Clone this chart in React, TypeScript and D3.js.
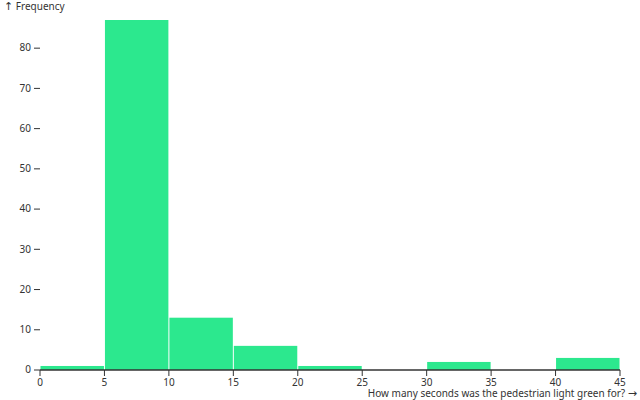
import * as d3 from 'd3';

// Histogram bins (seconds) and counts
const binStarts = [0, 5, 10, 15, 20, 25, 30, 35, 40];
const binWidth = 5;
const counts = [1, 87, 13, 6, 1, 0, 2, 0, 3];
const xTicks = [0, 5, 10, 15, 20, 25, 30, 35, 40, 45];
const yTicks = [0, 10, 20, 30, 40, 50, 60, 70, 80];

const WIDTH = 640;
const HEIGHT = 400;
const margin = { top: 20, right: 20, bottom: 30, left: 40 };
const FILL = '#2ce88e';
const INK = '#333';
const FONT = '"Noto Sans", sans-serif';
const ARROW_FONT = '"DejaVu Sans", sans-serif';

export default function App() {
  const x = d3.scaleLinear()
    .domain([0, 45])
    .range([margin.left, WIDTH - margin.right]);
  const y = d3.scaleLinear()
    .domain([0, d3.max(counts) as number])
    .range([HEIGHT - margin.bottom, margin.top]);

  const bars = binStarts.map((start, i) => ({ x0: start, x1: start + binWidth, n: counts[i] }));

  return (
    <svg
      width={WIDTH}
      height={HEIGHT}
      viewBox={`0 0 ${WIDTH} ${HEIGHT}`}
      style={{ position: 'absolute', left: 0, top: 0, background: '#fff' }}
      fontFamily={FONT}
      fontSize={10}
    >
      {/* bars */}
      <g fill={FILL}>
        {bars.filter(b => b.n > 0).map(b => (
          <rect
            key={b.x0}
            x={x(b.x0) + 0.5}
            width={x(b.x1) - x(b.x0) - 1}
            y={y(b.n)}
            height={y(0) - y(b.n)}
          />
        ))}
      </g>

      {/* y axis */}
      <g fill={INK} textAnchor="end">
        {yTicks.map(t => (
          <g key={t} transform={`translate(0,${y(t)})`}>
            <line x1={margin.left - 6} x2={margin.left} stroke={INK} />
            <text x={margin.left - 9} dy="0.32em">{t}</text>
          </g>
        ))}
      </g>
      <text x={4} y={10} fill={INK}>
        <tspan fontFamily={ARROW_FONT} fontSize={11}>↑</tspan> Frequency
      </text>

      {/* baseline rule */}
      <line x1={margin.left} x2={WIDTH - margin.right} y1={y(0)} y2={y(0)} stroke={INK} strokeWidth={1.5} />

      {/* x axis */}
      <g fill={INK} textAnchor="middle">
        {xTicks.map(t => (
          <g key={t} transform={`translate(${x(t)},${HEIGHT - margin.bottom})`}>
            <line y1={0} y2={6} stroke={INK} />
            <text y={9} dy="0.71em">{t}</text>
          </g>
        ))}
      </g>
      <text x={WIDTH - 3} y={HEIGHT - 3} fill={INK} textAnchor="end">
        How many seconds was the pedestrian light green for? <tspan fontFamily={ARROW_FONT} fontSize={11}>→</tspan>
      </text>
    </svg>
  );
}
